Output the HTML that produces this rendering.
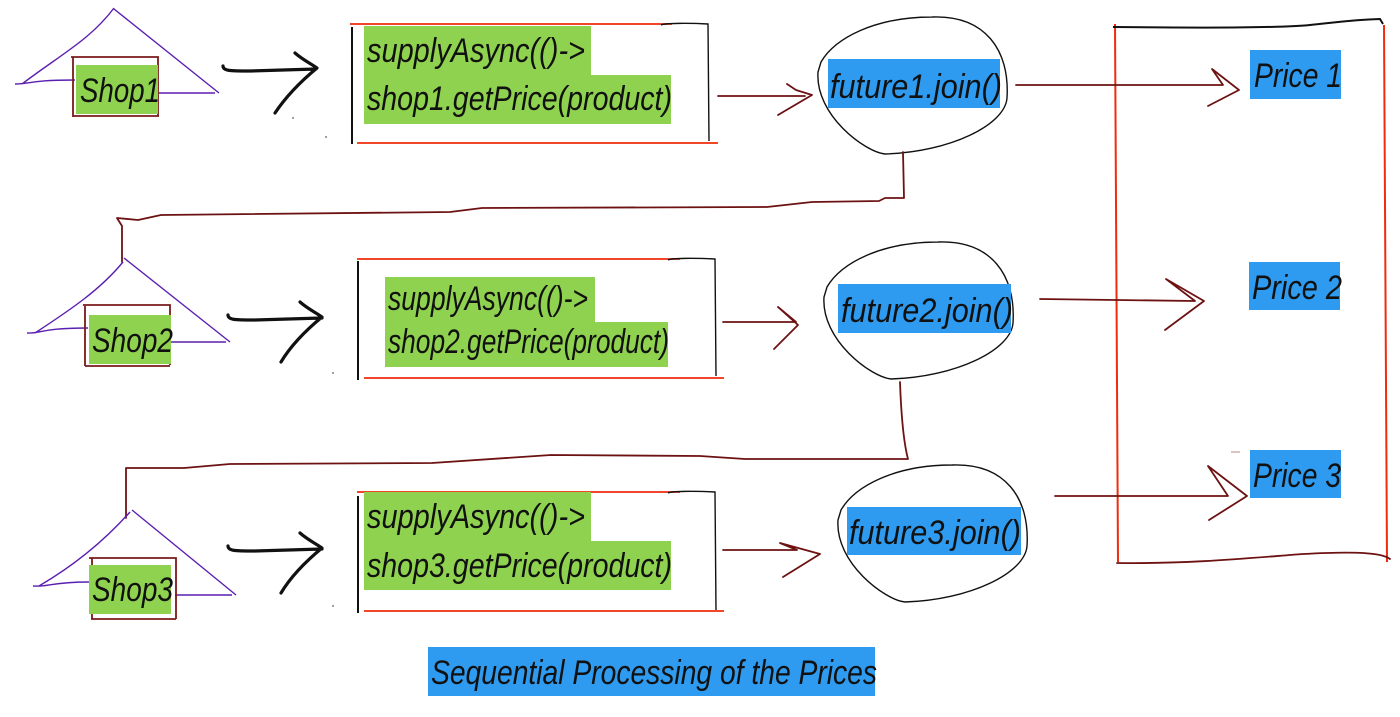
<!DOCTYPE html>
<html><head><meta charset="utf-8"><style>
html,body{margin:0;padding:0;background:#fff;width:1400px;height:717px;overflow:hidden}
svg{display:block}
text{font-family:"Liberation Sans",sans-serif;font-style:italic;fill:#111;font-size:34px}
.p{fill:none;stroke:#5b1fb0;stroke-width:1.4}
.m{fill:none;stroke:#7a1a1a;stroke-width:1.8}
.d{fill:none;stroke:#6d1212;stroke-width:1.8;stroke-linejoin:round;stroke-linecap:round}
.k{fill:none;stroke:#111;stroke-width:1.4}
.b{fill:none;stroke:#111;stroke-width:3.2;stroke-linecap:round;stroke-linejoin:round}
.r{fill:none;stroke:#f02c0c;stroke-width:1.8}
.g{fill:#8fd24f}.u{fill:#2e9bf0}
</style></head><body>
<svg width="1400" height="717" viewBox="0 0 1400 717" xmlns="http://www.w3.org/2000/svg">
<!-- output box -->
<path d="M1115 24L1118 562" style="fill:none;stroke:#f02c0c;stroke-width:2"/>
<path d="M1384 25L1387 562" style="fill:none;stroke:#f02c0c;stroke-width:2"/>
<path d="M1113 27C1200 28 1280 28 1310 25C1340 22 1350 20 1380 19L1383 24" style="fill:none;stroke:#111;stroke-width:2"/>
<path class="d" d="M1117 563C1190 564 1250 558 1303 554C1340 552 1380 551 1390 559"/>

<!-- row 1 -->
<path class="p" d="M114 8C90 40 60 55 22 84M15 84C30 84 30 80 75 80M114 9L219 93M159 93H215"/>
<path class="m" d="M71 57H158V116M73 57V117M73 116H159"/>
<rect class="g" x="76" y="65" width="82" height="49"/>
<text x="80" y="102" textLength="80" lengthAdjust="spacingAndGlyphs">Shop1</text>
<path class="b" d="M223 66C223 71 230 71 250 71L316 69M295 53C303 60 310 63 317 68C300 82 285 98 275 113"/>
<circle cx="293" cy="118" r=".7" fill="#111"/><circle cx="326" cy="137" r=".7" fill="#111"/>
<path d="M352 27V144" style="fill:none;stroke:#111;stroke-width:2"/>
<path class="r" d="M350 24H672"/><path class="r" d="M357 143H718"/>
<path class="k" d="M661 25C664 23 690 23 708 24L709 141"/>
<path class="g" d="M364 26H591V75H671V124H364Z"/>
<text x="367" y="62" textLength="218" lengthAdjust="spacingAndGlyphs">supplyAsync(()-&gt;</text>
<text x="367" y="110" textLength="305" lengthAdjust="spacingAndGlyphs">shop1.getPrice(product)</text>
<path class="d" d="M718 96H805M787 84L796 90L812 95L778 115"/>
<g id="e1"><path class="k" d="M821 62C835 38 875 17 932 17C985 15 1010 50 1007 98C1005 125 950 152 885 154C865 152 815 115 818 72Z"/></g>
<rect class="u" x="828" y="59" width="172" height="49"/>
<text x="830" y="98" textLength="172" lengthAdjust="spacingAndGlyphs">future1.join()</text>
<path class="d" d="M1016 85H1223L1212 69L1239 90L1208 106"/>
<rect class="u" x="1250" y="50" width="91" height="49"/>
<text x="1254" y="87" textLength="88" lengthAdjust="spacingAndGlyphs">Price 1</text>
<path class="d" d="M903 152L904 198L885 198L879 201L812 202L767 207L482 208L450 212L161 215L138 220L117 218L122 226V262"/>

<!-- row 2 -->
<path class="p" d="M123 262C100 290 70 310 35 333M27 333C40 334 40 328 88 328M124 258L230 342M171 342H226"/>
<path class="m" d="M83 305H170V365M85 306V366M85 366H170"/>
<rect class="g" x="89" y="315" width="82" height="49"/>
<text x="92" y="352" textLength="81" lengthAdjust="spacingAndGlyphs">Shop2</text>
<path class="b" d="M228 315C228 320 235 320 255 320L322 318M300 302C308 309 315 312 322 317C305 331 290 347 281 362"/>
<circle cx="333" cy="373" r=".7" fill="#111"/>
<path d="M358 261V380" style="fill:none;stroke:#111;stroke-width:2"/>
<path class="r" d="M357 259H680"/><path class="r" d="M364 378H724"/>
<path class="k" d="M668 260C671 258 695 258 715 259L716 376"/>
<path class="g" d="M385 277H595V322H668V367H385Z"/>
<text x="388" y="310" textLength="200" lengthAdjust="spacingAndGlyphs">supplyAsync(()-&gt;</text>
<text x="388" y="353" textLength="281" lengthAdjust="spacingAndGlyphs">shop2.getPrice(product)</text>
<path class="d" d="M723 322H796L778 307L798 325L774 349"/>
<g transform="translate(6 225)"><path class="k" d="M821 62C835 38 875 17 932 17C985 15 1010 50 1007 98C1005 125 950 152 885 154C865 152 815 115 818 72Z"/></g>
<rect class="u" x="838" y="284" width="173" height="49"/>
<text x="841" y="322" textLength="172" lengthAdjust="spacingAndGlyphs">future2.join()</text>
<path class="d" d="M1040 299L1195 301L1166 279L1204 301L1165 330"/>
<rect class="u" x="1249" y="262" width="91" height="48"/>
<text x="1252" y="299" textLength="90" lengthAdjust="spacingAndGlyphs">Price 2</text>
<path class="d" d="M900 382C901 410 903 440 908 459L745 459L700 456L551 455L432 463L230 464L184 468H126V518"/>

<!-- row 3 -->
<path class="p" d="M130 512C105 540 75 565 39 586M33 586C50 587 50 582 89 582M132 510L236 595M175 595H232"/>
<path class="m" d="M89 558H176V619M92 558V619M91 619H176"/>
<rect class="g" x="89" y="565" width="82" height="49"/>
<text x="92" y="601" textLength="81" lengthAdjust="spacingAndGlyphs">Shop3</text>
<path class="b" d="M228 546C228 551 235 551 255 551L322 549M300 533C308 540 315 543 322 548C305 562 290 578 281 593"/>
<circle cx="333" cy="606" r=".7" fill="#111"/>
<path d="M358 496V613" style="fill:none;stroke:#111;stroke-width:2"/>
<path class="r" d="M357 492H680"/><path class="r" d="M364 611H724"/>
<path class="k" d="M668 493C671 491 695 491 715 492L716 610"/>
<path class="g" d="M364 492H591V541H671V590H364Z"/>
<text x="367" y="528" textLength="218" lengthAdjust="spacingAndGlyphs">supplyAsync(()-&gt;</text>
<text x="367" y="577" textLength="305" lengthAdjust="spacingAndGlyphs">shop3.getPrice(product)</text>
<path class="d" d="M723 550H797L780 543L820 554L783 577"/>
<g transform="translate(20 448)"><path class="k" d="M821 62C835 38 875 17 932 17C985 15 1010 50 1007 98C1005 125 950 152 885 154C865 152 815 115 818 72Z"/></g>
<rect class="u" x="847" y="507" width="174" height="48"/>
<text x="849" y="544" textLength="172" lengthAdjust="spacingAndGlyphs">future3.join()</text>
<path class="d" d="M1055 496H1228L1208 466L1247 496L1209 520"/>
<rect class="u" x="1250" y="450" width="91" height="48"/>
<text x="1253" y="487" textLength="88" lengthAdjust="spacingAndGlyphs">Price 3</text>
<path d="M1231 452H1240" style="stroke:#b88;stroke-width:1"/>

<!-- caption -->
<rect class="u" x="428" y="647" width="447" height="49"/>
<text x="431" y="684" textLength="446" lengthAdjust="spacingAndGlyphs">Sequential Processing of the Prices</text>
</svg>
</body></html>
